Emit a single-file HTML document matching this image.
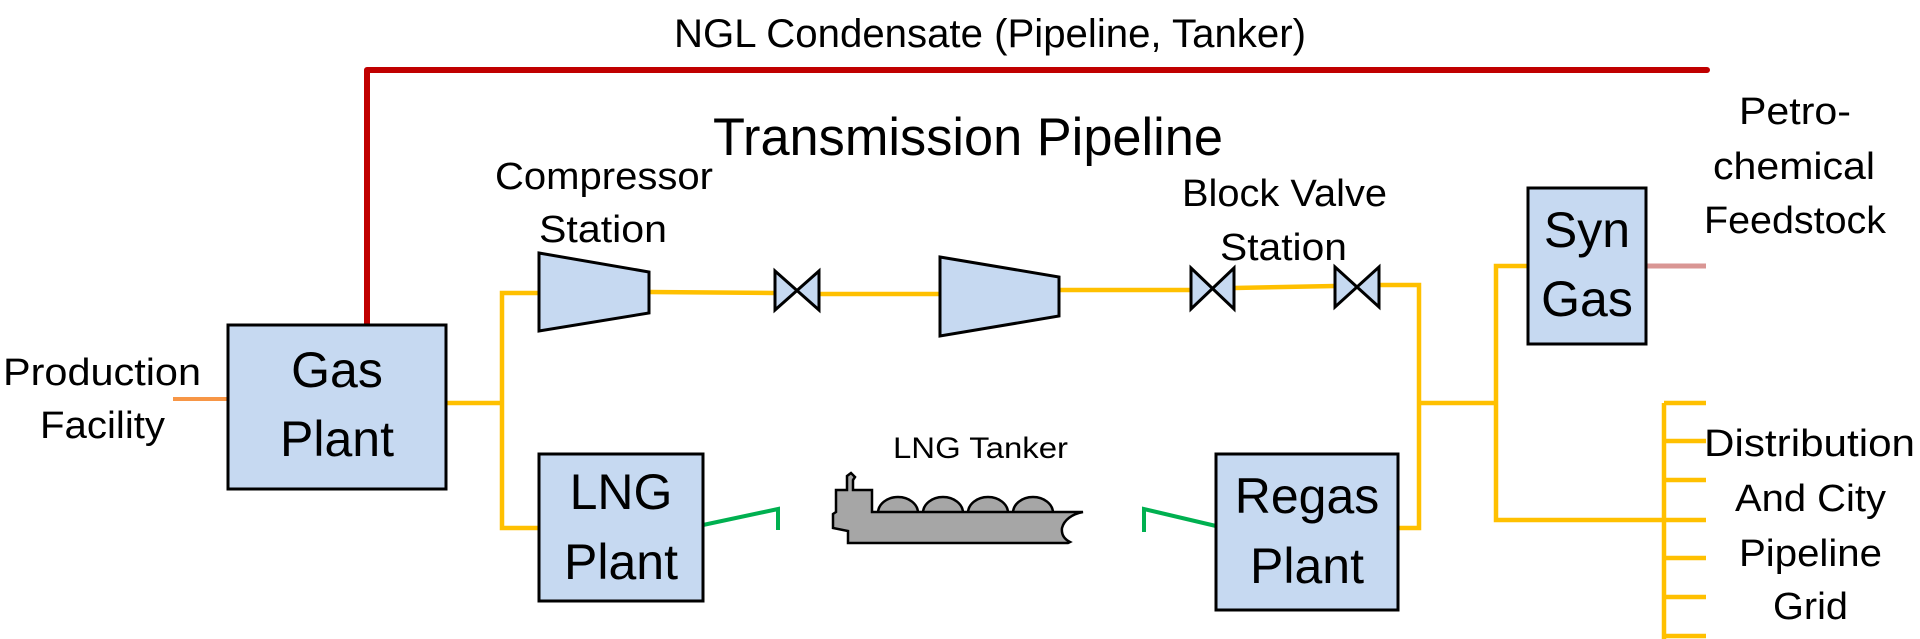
<!DOCTYPE html>
<html><head><meta charset="utf-8"><style>
html,body{margin:0;padding:0;background:#fff;}
svg{display:block;}
text{font-family:"Liberation Sans",sans-serif;fill:#000;}
</style></head><body>
<svg width="1920" height="639" viewBox="0 0 1920 639" xmlns="http://www.w3.org/2000/svg">
<polyline points="367,326 367,70 1707,70" fill="none" stroke="#c00000" stroke-width="6" stroke-linecap="round" stroke-linejoin="round"/>
<text x="674" y="47" font-size="40" textLength="632" lengthAdjust="spacingAndGlyphs">NGL Condensate (Pipeline, Tanker)</text>
<text x="713" y="155" font-size="53" textLength="510" lengthAdjust="spacingAndGlyphs">Transmission Pipeline</text>
<text x="495" y="189" font-size="38" textLength="218" lengthAdjust="spacingAndGlyphs">Compressor</text>
<text x="539" y="242" font-size="38" textLength="128" lengthAdjust="spacingAndGlyphs">Station</text>
<text x="1182" y="206" font-size="38" textLength="205" lengthAdjust="spacingAndGlyphs">Block Valve</text>
<text x="1220" y="260" font-size="38" textLength="127" lengthAdjust="spacingAndGlyphs">Station</text>
<text x="3" y="385" font-size="38" textLength="198" lengthAdjust="spacingAndGlyphs">Production</text>
<text x="40" y="438" font-size="38" textLength="125" lengthAdjust="spacingAndGlyphs">Facility</text>
<text x="1739" y="124" font-size="38" textLength="112" lengthAdjust="spacingAndGlyphs">Petro-</text>
<text x="1713" y="179" font-size="38" textLength="162" lengthAdjust="spacingAndGlyphs">chemical</text>
<text x="1704" y="233" font-size="38" textLength="182" lengthAdjust="spacingAndGlyphs">Feedstock</text>
<text x="1704" y="456" font-size="38" textLength="211" lengthAdjust="spacingAndGlyphs">Distribution</text>
<text x="1735" y="511" font-size="38" textLength="151" lengthAdjust="spacingAndGlyphs">And City</text>
<text x="1739" y="566" font-size="38" textLength="143" lengthAdjust="spacingAndGlyphs">Pipeline</text>
<text x="1773" y="619" font-size="38" textLength="75" lengthAdjust="spacingAndGlyphs">Grid</text>
<text x="893" y="458" font-size="30" textLength="175" lengthAdjust="spacingAndGlyphs">LNG Tanker</text>

<line x1="173" y1="399" x2="228" y2="399" stroke="#f79646" stroke-width="4"/>
<line x1="1646" y1="266" x2="1706" y2="266" stroke="#d99694" stroke-width="5"/>

<g fill="none" stroke="#ffc000" stroke-width="4.5" stroke-linejoin="miter">
<line x1="446" y1="403" x2="502" y2="403"/>
<polyline points="539,293 502,293 502,528 539,528"/>
<line x1="649" y1="292" x2="775" y2="293"/>
<line x1="819" y1="294" x2="940" y2="294"/>
<line x1="1059" y1="290" x2="1191" y2="290"/>
<line x1="1234" y1="288" x2="1335" y2="286"/>
<polyline points="1379,285 1419,285 1419,528 1398,528"/>
<line x1="1419" y1="403" x2="1496" y2="403"/>
<polyline points="1528,266 1496,266 1496,520 1664,520"/>
<line x1="1664" y1="403" x2="1664" y2="639"/>
<line x1="1664" y1="403" x2="1706" y2="403"/>
<line x1="1664" y1="441" x2="1706" y2="441"/>
<line x1="1664" y1="480" x2="1706" y2="480"/>
<line x1="1664" y1="520" x2="1706" y2="520"/>
<line x1="1664" y1="558" x2="1706" y2="558"/>
<line x1="1664" y1="597" x2="1706" y2="597"/>
<line x1="1664" y1="636" x2="1706" y2="636"/>
</g>

<polyline points="703,525 778,509 778,530" fill="none" stroke="#00b050" stroke-width="4"/>
<polyline points="1216,526 1144,509 1144,532" fill="none" stroke="#00b050" stroke-width="4"/>

<g fill="#c6d9f1" stroke="#000" stroke-width="3">
<rect x="228" y="325" width="218" height="164"/>
<rect x="539" y="454" width="164" height="147"/>
<rect x="1216" y="454" width="182" height="156"/>
<rect x="1528" y="188" width="118" height="156"/>
<polygon points="539,253 649,272 649,313 539,331"/>
<polygon points="940,257 1059,277 1059,316 940,336"/>
<polygon points="775,271 819,310 819,271 775,310"/>
<polygon points="1191,268 1234,309 1234,268 1191,309"/>
<polygon points="1335,267 1379,307 1379,267 1335,307"/>
</g>
<g font-size="50" text-anchor="middle">
<text x="337" y="387">Gas</text>
<text x="337" y="456">Plant</text>
<text x="621" y="509">LNG</text>
<text x="621" y="579">Plant</text>
<text x="1307" y="513">Regas</text>
<text x="1307" y="583">Plant</text>
<text x="1587" y="247">Syn</text>
<text x="1587" y="316">Gas</text>
</g>

<g stroke="#000" stroke-width="2.5" fill="#a6a6a6">
<ellipse cx="898" cy="513" rx="20" ry="16"/>
<ellipse cx="943" cy="513" rx="20" ry="16"/>
<ellipse cx="988" cy="513" rx="20" ry="16"/>
<ellipse cx="1033" cy="513" rx="20" ry="16"/>
<path d="M847,490 L847,476 L851,473 L855,477 L853,480 L853,490 L872,490 L872,512 L1083,512 C1072,514 1064,520 1062,528 C1061,536 1066,540 1070,542 L1068,543 L848,543 L848,531 L833,528 L833,514 L836,512 L836,490 Z"/>
</g>
</svg>
</body></html>
